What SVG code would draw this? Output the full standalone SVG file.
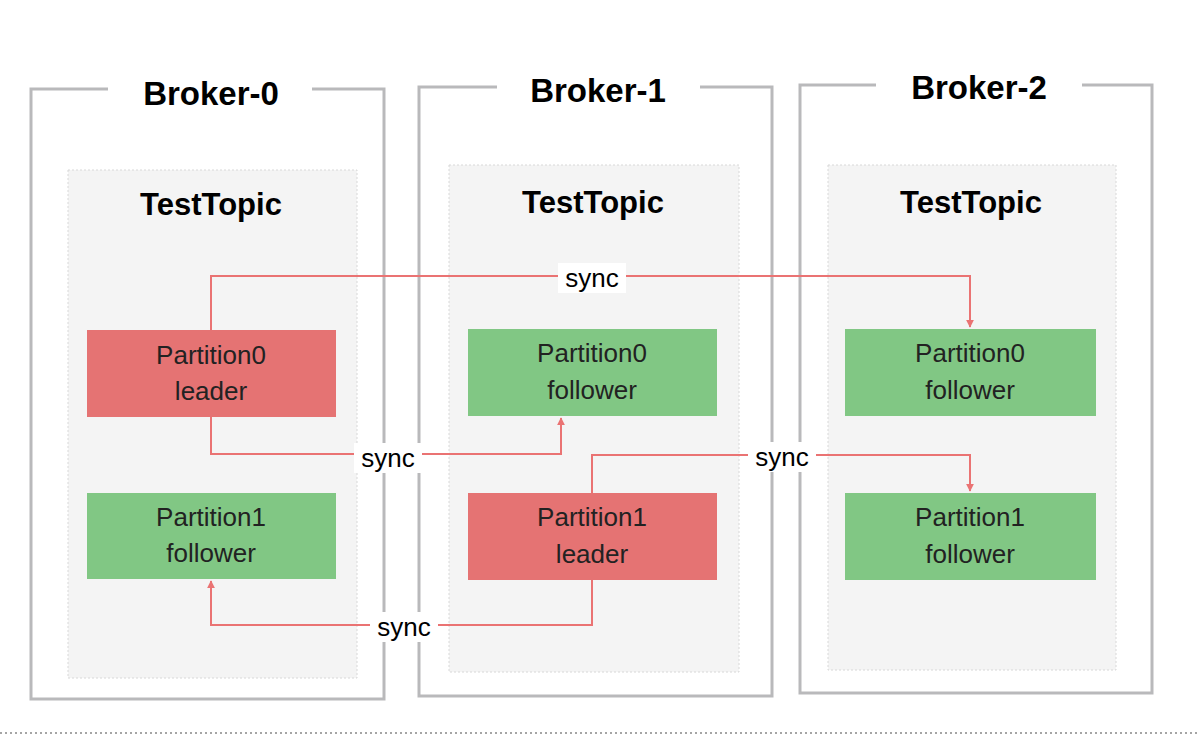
<svg xmlns="http://www.w3.org/2000/svg" width="1200" height="736" viewBox="0 0 1200 736">
<defs>
<style>
.broker{fill:none;stroke:#b9b9bb;stroke-width:3}
.inner{fill:#f4f4f4;stroke:#d8d8d8;stroke-width:1;stroke-dasharray:2 2}
.title{font-family:"Liberation Sans",Arial,sans-serif;font-weight:bold;font-size:33px;fill:#000;text-anchor:middle}
.topic{font-family:"Liberation Sans",Arial,sans-serif;font-weight:bold;font-size:31px;fill:#000;text-anchor:middle}
.nt{font-family:"Liberation Sans",Arial,sans-serif;font-size:26px;fill:#222;text-anchor:middle}
.lead{fill:#e57373}
.foll{fill:#81c784}
.conn{fill:none;stroke:#ea7373;stroke-width:2}
.lbl{font-family:"Liberation Sans",Arial,sans-serif;font-size:26px;fill:#000;text-anchor:middle}
.lblbg{fill:#fff}
</style>
<marker id="ah" viewBox="0 0 10 10" refX="9" refY="5" markerWidth="8" markerHeight="8" markerUnits="userSpaceOnUse" orient="auto"><path d="M0,0 L10,5 L0,10 z" fill="#ea7373"/></marker>
</defs>
<rect width="1200" height="736" fill="#fff"/>
<line x1="0" y1="733" x2="1200" y2="733" stroke="#888" stroke-width="1.5" stroke-dasharray="2 3"/>

<g id="broker0">
<path class="broker" d="M108,89 H31 V699 H384 V89 H312"/>
<text class="title" x="211" y="105">Broker-0</text>
<rect class="inner" x="68" y="170" width="289" height="508"/>
<text class="topic" x="211" y="215">TestTopic</text>
</g>
<g id="broker1">
<path class="broker" d="M497,87 H419 V696 H772 V87 H700"/>
<text class="title" x="598" y="102">Broker-1</text>
<rect class="inner" x="449" y="165" width="290" height="507"/>
<text class="topic" x="593" y="213">TestTopic</text>
</g>
<g id="broker2">
<path class="broker" d="M876,85 H800 V693 H1152 V85 H1082"/>
<text class="title" x="979" y="99">Broker-2</text>
<rect class="inner" x="828" y="165" width="288" height="505"/>
<text class="topic" x="971" y="213">TestTopic</text>
</g>

<g id="connectors">
<path class="conn" d="M211,330 V276 H970 V327" marker-end="url(#ah)"/>
<path class="conn" d="M211,417 V454 H561 V418" marker-end="url(#ah)"/>
<path class="conn" d="M592,493 V455 H970 V491" marker-end="url(#ah)"/>
<path class="conn" d="M592,580 V625 H211 V581" marker-end="url(#ah)"/>
<rect class="lblbg" x="558" y="263" width="68" height="30"/>
<text class="lbl" x="592" y="287">sync</text>
<rect class="lblbg" x="354" y="443" width="68" height="30"/>
<text class="lbl" x="388" y="467">sync</text>
<rect class="lblbg" x="748" y="442" width="68" height="30"/>
<text class="lbl" x="782" y="466">sync</text>
<rect class="lblbg" x="370" y="612" width="68" height="30"/>
<text class="lbl" x="404" y="636">sync</text>
</g>

<g id="b0p0"><rect class="lead" x="87" y="330" width="249" height="87"/><text class="nt" x="211" y="364">Partition0</text><text class="nt" x="211" y="400">leader</text></g>
<g id="b0p1"><rect class="foll" x="87" y="493" width="249" height="86"/><text class="nt" x="211" y="526">Partition1</text><text class="nt" x="211" y="562">follower</text></g>
<g id="b1p0"><rect class="foll" x="468" y="329" width="249" height="87"/><text class="nt" x="592" y="362">Partition0</text><text class="nt" x="592" y="399">follower</text></g>
<g id="b1p1"><rect class="lead" x="468" y="493" width="249" height="87"/><text class="nt" x="592" y="526">Partition1</text><text class="nt" x="592" y="563">leader</text></g>
<g id="b2p0"><rect class="foll" x="845" y="329" width="251" height="87"/><text class="nt" x="970" y="362">Partition0</text><text class="nt" x="970" y="399">follower</text></g>
<g id="b2p1"><rect class="foll" x="845" y="493" width="251" height="87"/><text class="nt" x="970" y="526">Partition1</text><text class="nt" x="970" y="563">follower</text></g>
</svg>
